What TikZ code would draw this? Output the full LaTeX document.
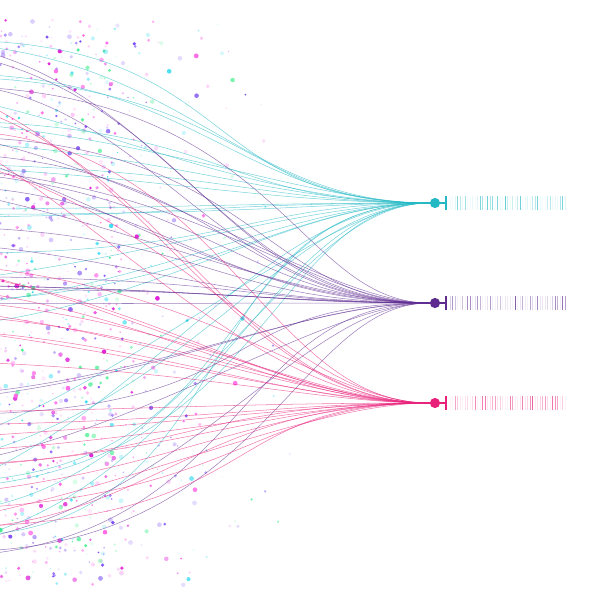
\documentclass[tikz,border=0pt]{standalone}
\usetikzlibrary{positioning}
\definecolor{HubCyan}{HTML}{22B8C4}
\definecolor{HubPurple}{HTML}{5E2B91}
\definecolor{HubPink}{HTML}{E8207A}
\definecolor{DotPink}{HTML}{FF66E6}
\definecolor{DotMagenta}{HTML}{E020D8}
\definecolor{DotViolet}{HTML}{7A4DF5}
\definecolor{DotCyan}{HTML}{40DDF0}
\definecolor{DotGreen}{HTML}{45EE90}

\begin{document}
\begin{tikzpicture}[x=0.02cm, y=-0.02cm,
        hub/.style={circle, fill=#1, inner sep=0pt, minimum size=5.8pt},
        hubbar/.style={fill=#1, inner sep=0pt, minimum width=0.8pt, minimum height=8pt},
        wire/.style={draw=#1, line width=0.3pt, opacity=0.6},
        stem/.style={draw=#1, line width=0.7pt},
      ]
      \useasboundingbox (0,0) rectangle (600,600);
      \pgfmathsetseed{4217}
      \pgfmathdeclarerandomlist{dotcols}{{DotPink}{DotPink}{DotMagenta}{DotViolet}{DotViolet}{DotCyan}{DotGreen}}
      % scattered dust
      \foreach \k in {1,...,850}{
        \pgfmathsetmacro{\dx}{120*rnd^1.3+200*rnd^6}
        \pgfmathsetmacro{\dy}{20+565*rnd}
        \pgfmathsetmacro{\dr}{0.35+1.05*rnd}
        \pgfmathsetmacro{\da}{0.15+0.85*rnd^1.8}
        \pgfmathrandomitem{\dc}{dotcols}
        \fill[\dc, opacity=\da] (\dx,\dy) circle[radius=\dr pt];
      }
      % hubs with their barcodes
      \foreach \name/\col/\hy in {cyan/HubCyan/203, purple/HubPurple/303, pink/HubPink/403}{
        \node[hub=\col] (\name) at (435,\hy) {};
        \node[hubbar=\col] (\name bar) at (446,\hy) {};
        \draw[stem=\col] (\name) -- (\name bar);
        \foreach \t in {0,...,46}{
          \pgfmathsetmacro{\ta}{0.05+0.7*rnd^2.5}
          \draw[\col, opacity=\ta, line width=0.45pt] (450+\t*2.5,\hy-7) -- (450+\t*2.5,\hy+7);
        }
        % wires into the hub
        \foreach \k in {1,...,26}{
          \pgfmathsetmacro{\sy}{30+530*rnd}
          \pgfmathsetmacro{\sx}{-40-160*rnd}
          \pgfmathsetmacro{\ca}{200+150*rnd}
          \pgfmathsetmacro{\cb}{120+130*rnd}
          \coordinate (src) at (\sx,\sy);
          \draw[wire=\col] (src) .. controls +(\ca,0) and +(-\cb,0) .. (\name);
        }
      }
    \end{tikzpicture}
\end{document}
